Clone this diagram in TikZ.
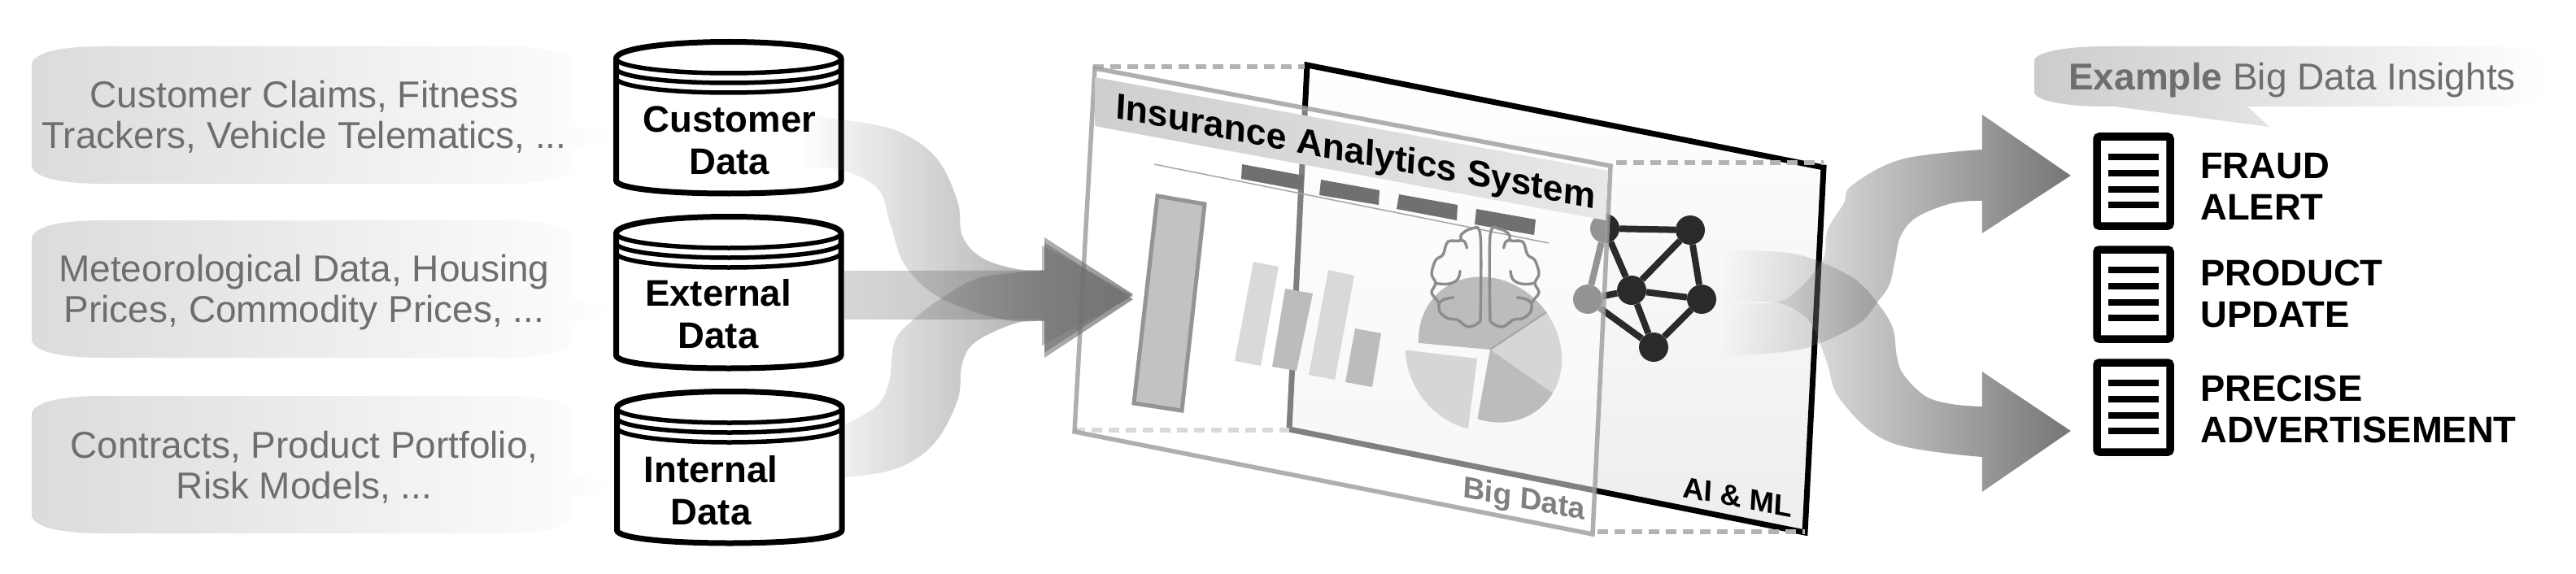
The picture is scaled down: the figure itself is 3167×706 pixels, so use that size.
\documentclass[tikz,border=0pt]{standalone}
\usepackage{fontspec}
\setmainfont{Liberation Sans}
\usetikzlibrary{fadings,shapes.geometric}
\definecolor{txtgray}{HTML}{6E6E6E}
\definecolor{panelgray}{HTML}{9C9C9C}
\definecolor{dashgray}{HTML}{B3B3B3}
\definecolor{arrowgray}{HTML}{707070}
\definecolor{netdark}{HTML}{2A2A2A}
\definecolor{boxdark}{HTML}{707070}
\definecolor{pielight}{HTML}{D6D6D6}
\definecolor{piemid}{HTML}{BCBCBC}
\definecolor{barlight}{HTML}{D9D9D9}
\tikzfading[name=fadeA,left color=transparent!100,right color=transparent!24]
\tikzfading[name=fadeB,left color=transparent!89,right color=transparent!24]
\tikzfading[name=fadeC,left color=transparent!72,right color=transparent!48]
\tikzfading[name=fadeD,left color=transparent!100,right color=transparent!4]
\tikzset{
  bubbletext/.style={inner sep=0pt,align=center,text=txtgray,font=\fontsize{46}{50}\selectfont},
  dbtext/.style={inner sep=0pt,align=center,text=black,font=\fontsize{45.5}{52}\selectfont\bfseries},
  insighttext/.style={inner sep=0pt,align=left,anchor=west,text=black,font=\fontsize{45.4}{51}\selectfont\bfseries},
  skewbold/.style={inner sep=0pt,anchor=base west,transform shape,font=\bfseries},
  dbline/.style={draw=black,line width=7pt,fill=white},
  dbring/.style={draw=black,line width=5.5pt},
  docframe/.style={draw=black,line width=9.5pt,rounded corners=3pt,fill=white},
  docline/.style={draw=black,line width=8pt},
  netnode/.style={circle,fill=netdark,minimum size=36pt,inner sep=0pt},
  netedge/.style={draw=netdark,line width=8pt},
  dashrun/.style={draw=dashgray,line width=6.5pt,dash pattern=on 13pt off 8pt},
  bubblefill/.style={left color=black!14,right color=white},
  brainline/.style={draw=black!45,line width=3.4pt,line cap=round,line join=round},
}
\newcommand{\bubbleshape}{%
  \shade[bubblefill] (39,80) .. controls (39,66) and (70,57) .. (127,57)
    -- (617,57) .. controls (675,57) and (705,66) .. (705,80)
    -- (705,154) -- (768,167) -- (705,183) -- (705,203)
    .. controls (705,217) and (675,226) .. (617,226)
    -- (127,226) .. controls (70,226) and (39,217) .. (39,203) -- cycle;}
\newcommand{\dbshape}{%
  \path[dbline] (757.5,72) -- (757.5,222) .. controls (757.5,232) and (820,238) .. (895.7,238)
     .. controls (972,238) and (1034,232) .. (1034,222) -- (1034,72)
     .. controls (1034,60) and (972,51.5) .. (895.7,51.5)
     .. controls (820,51.5) and (757.5,60) .. (757.5,72) -- cycle;
  \draw[dbring] (757.5,72) .. controls (757.5,82) and (820,90) .. (895.7,90) .. controls (972,90) and (1034,82) .. (1034,72);
  \draw[dbring] (757.5,84) .. controls (757.5,94) and (820,102) .. (895.7,102) .. controls (972,102) and (1034,94) .. (1034,84);
  \draw[dbring] (757.5,96) .. controls (757.5,106) and (820,114) .. (895.7,114) .. controls (972,114) and (1034,106) .. (1034,96);}
\newcommand{\docshape}{%
  \path[docframe] (2578,168) rectangle (2668,278);
  \draw[docline] (2592,193) -- (2654,193);
  \draw[docline] (2592,213) -- (2654,213);
  \draw[docline] (2592,233) -- (2654,233);
  \draw[docline] (2592,252) -- (2654,252);}
\newcommand{\brainhalf}{%
  \draw[brainline] plot[smooth,tension=.55] coordinates {(420,465) (420,150) (385,125) (350,145) (345,168) (300,172) (282,220) (255,240) (240,290) (255,325) (240,360) (265,395) (270,430) (300,455) (335,460) (370,485) (400,480) (420,465)};
  \draw[brainline] plot[smooth,tension=.7] coordinates {(345,165) (362,172) (370,195)};
  \draw[brainline] plot[smooth,tension=.7] coordinates {(345,280) (335,312) (300,328) (255,325)};
  \draw[brainline] plot[smooth,tension=.7] coordinates {(320,378) (285,385) (268,400)};}
\begin{document}
\begin{tikzpicture}[x=1pt,y=-1pt]
\useasboundingbox (0,0) rectangle (3167,706);
\fill[white] (0,0) rectangle (3167,706);

% source bubbles
\bubbleshape
\begin{scope}[shift={(0,214)}]\bubbleshape\end{scope}
\begin{scope}[shift={(0,430)}]\bubbleshape\end{scope}
\node[bubbletext] (b1) at (374,144) {Customer Claims, Fitness\\Trackers, Vehicle Telematics, ...};
\node[bubbletext] (b2) at (374,360) {Meteorological Data, Housing\\Prices, Commodity Prices, ...};
\node[bubbletext] (b3) at (374,575) {Contracts, Product Portfolio,\\Risk Models, ...};

% cylinders
\dbshape
\begin{scope}[shift={(0,215)}]\dbshape\end{scope}
\begin{scope}[shift={(1,430)}]\dbshape\end{scope}

% AI & ML panel
\shade[top color=white,bottom color=black!7] (1607,80) -- (2242,206) -- (2219,655) -- (1585,528) -- cycle;
\draw[black,line width=7pt,line join=miter] (1607,80) -- (2242,206) -- (2219,655) -- (1585,528) -- cycle;
\draw[dashrun] (1344,82) -- (1604,82);
\draw[dashrun] (1321,529) -- (1585,529);
\draw[dashrun] (1987,200) -- (2242,200);
\draw[dashrun] (1964,654) -- (2219,654);

% network
\node[netnode] (n1) at (1973,281) {};
\node[netnode] (n2) at (2078,283) {};
\node[netnode] (n3) at (1952,368) {};
\node[netnode] (n4) at (2006,357) {};
\node[netnode] (n5) at (2092,368) {};
\node[netnode] (n6) at (2033,427) {};
\draw[netedge] (n1) -- (n2);
\draw[netedge] (n1) -- (n3);
\draw[netedge] (n1) -- (n4);
\draw[netedge] (n2) -- (n4);
\draw[netedge] (n2) -- (n5);
\draw[netedge] (n3) -- (n4);
\draw[netedge] (n4) -- (n5);
\draw[netedge] (n4) -- (n6);
\draw[netedge] (n3) -- (n6);
\draw[netedge] (n5) -- (n6);

% Big Data panel
\path[fill=white,fill opacity=.5,draw=panelgray,draw opacity=.8,line width=5.5pt] (1346,84) -- (1980,204) -- (1958,657) -- (1321,531) -- cycle;
\shade[left color=black!19,right color=black!9] (1346,95) -- (1977,210) -- (1974,271) -- (1346,155) -- cycle;
\draw[black!35,line width=1.5pt] (1419,202) -- (1904,299);
\fill[boxdark] (1527,202) -- (1603,216) -- (1601,234) -- (1526,220) -- cycle;
\fill[boxdark] (1624,221) -- (1696,234) -- (1695,252) -- (1622,240) -- cycle;
\fill[boxdark] (1720,239) -- (1792,252) -- (1791,271) -- (1717,257) -- cycle;
\fill[boxdark] (1815,257) -- (1888,270) -- (1886,289) -- (1813,276) -- cycle;
\path[fill=black!24,draw=black!42,line width=5pt] (1423,241) -- (1481,251) -- (1453,505) -- (1394,496) -- cycle;
\fill[barlight] (1541,322) -- (1572,328) -- (1550,450) -- (1518,444) -- cycle;
\fill[piemid] (1580,355) -- (1614,361) -- (1594,456) -- (1564,451) -- cycle;
\fill[barlight] (1633,332) -- (1665,339) -- (1641,467) -- (1609,461) -- cycle;
\fill[piemid] (1666,404) -- (1698,410) -- (1687,476) -- (1654,470) -- cycle;

% pie
\begin{scope}[shift={(1832,430)},cm={1,-.189,.056,1,(0,0)},x=1pt,y=1pt]
  \fill[piemid] (0,0) -- (41.6:88) arc[start angle=41.6,end angle=185.5,radius=88] -- cycle;
  \fill[pielight] (0,0) -- (-26:88) arc[start angle=-26,end angle=41.6,radius=88] -- cycle;
  \fill[piemid] (0,0) -- (-97:88) arc[start angle=-97,end angle=-26,radius=88] -- cycle;
  \draw[black!35,line width=2pt] (0,0) -- (41.6:88);
\end{scope}
\begin{scope}[shift={(1816,441)},cm={1,-.189,.056,1,(0,0)},x=1pt,y=1pt]
  \fill[pielight] (0,0) -- (184:88) arc[start angle=184,end angle=266,radius=88] -- cycle;
\end{scope}

% brain
\begin{scope}[shift={(1680,240)},x=.33333pt,y=-.33333pt]\brainhalf\end{scope}
\begin{scope}[shift={(1972,240)},x=-.33333pt,y=-.33333pt]\brainhalf\end{scope}

% panel titles
\begin{scope}[shift={(1371,145)},cm={1,-.189,.056,1,(0,0)}]
  \node[skewbold,font=\fontsize{44.4}{50}\selectfont\bfseries] (title) at (0,0) {Insurance Analytics System};
\end{scope}
\begin{scope}[shift={(1798,611)},cm={1,-.189,.056,1,(0,0)}]
  \node[skewbold,text=black!50,font=\fontsize{37}{40}\selectfont\bfseries] (bigdata) at (0,0) {Big Data};
\end{scope}
\begin{scope}[shift={(2068,611)},cm={1,-.189,.056,1,(0,0)}]
  \node[skewbold,font=\fontsize{36.2}{40}\selectfont\bfseries] (aiml) at (0,0) {AI \& ML};
\end{scope}

% left arrows
\fill[arrowgray,path fading=fadeA]
  plot[smooth,tension=.6] coordinates {(985,141) (1033,147) (1100,160) (1150,193) (1177,247) (1183,290) (1207,317) (1250,331) (1284,332)}
  -- (1284,292) -- (1393,362) -- (1284,434)
  -- plot[smooth,tension=.6] coordinates {(1284,394) (1233,393) (1157,367) (1113,327) (1095,277) (1080,233) (1037,210) (985,205)} -- cycle;
\fill[arrowgray,path fading=fadeB]
  plot[smooth,tension=.6] coordinates {(1038,522) (1077,500) (1093,470) (1100,420) (1123,393) (1157,367) (1200,343) (1250,335) (1284,333)}
  -- (1284,298) -- (1393,368) -- (1284,440)
  -- plot[smooth,tension=.6] coordinates {(1284,395) (1250,397) (1200,420) (1183,447) (1177,493) (1147,547) (1100,577) (1038,587)} -- cycle;
\fill[arrowgray,path fading=fadeC]
  (1037,333) -- (1281,333) -- (1281,302) -- (1393,364) -- (1281,425) -- (1281,393) -- (1037,393) -- cycle;

% right arrows
\fill[arrowgray,path fading=fadeD]
  plot[smooth,tension=.6] coordinates {(2120,372) (2183,372) (2210,357) (2228,338) (2243,315) (2247,283) (2267,250) (2277,228) (2338,196) (2437,184)}
  -- (2437,141) -- (2546,216) -- (2437,287)
  -- plot[smooth,tension=.6] coordinates {(2437,247) (2400,250) (2357,267) (2337,290) (2330,320) (2323,350) (2308,372) (2287,397) (2243,420) (2200,432) (2120,438)} -- cycle;
\fill[arrowgray,path fading=fadeD]
  plot[smooth,tension=.6] coordinates {(2120,307) (2190,310) (2233,320) (2280,343) (2308,372) (2327,403) (2332,437) (2340,460) (2367,487) (2400,497) (2437,500)}
  -- (2437,457) -- (2546,530) -- (2437,605)
  -- plot[smooth,tension=.6] coordinates {(2437,562) (2324,544) (2263,492) (2246,445) (2228,400) (2210,383) (2183,372) (2120,372)} -- cycle;

% cylinder labels
\node[dbtext] (d1) at (897,173) {Customer\\Data};
\node[dbtext] (d2) at (883,386) {External\\Data};
\node[dbtext] (d3) at (874,603) {Internal\\Data};

% callout
\shade[left color=black!20,right color=white] (2501,75) .. controls (2501,64) and (2540,57) .. (2590,57)
  -- (3045,57) .. controls (3095,57) and (3133,64) .. (3133,75) -- (3133,113)
  .. controls (3133,124) and (3095,131) .. (3045,131) -- (2763,131) -- (2790,156) -- (2600,131) -- (2590,131)
  .. controls (2540,131) and (2501,124) .. (2501,113) -- cycle;
\node[inner sep=0pt,anchor=base west,text=txtgray,font=\fontsize{46}{50}\selectfont] (ex) at (2543,111) {\textbf{Example} Big Data Insights};

% insight documents
\docshape
\begin{scope}[shift={(0,139)}]\docshape\end{scope}
\begin{scope}[shift={(0,278)}]\docshape\end{scope}
\node[insighttext] (i1) at (2705,229) {FRAUD\\ALERT};
\node[insighttext] (i2) at (2705,361) {PRODUCT\\UPDATE};
\node[insighttext] (i3) at (2705,503) {PRECISE\\ADVERTISEMENT};
\end{tikzpicture}
\end{document}
